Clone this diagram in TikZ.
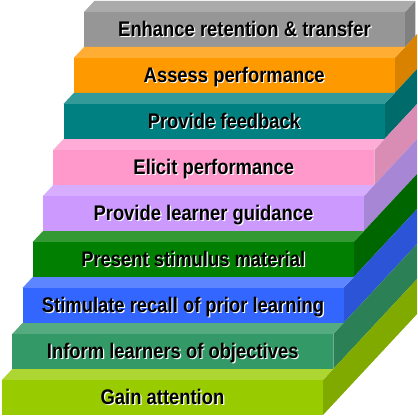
\documentclass[tikz,border=0pt]{standalone}
\usepackage{fontspec}
\setmainfont{Liberation Sans}
\definecolor{f0}{HTML}{969696}\definecolor{t0}{HTML}{ABABAB}\definecolor{d0}{HTML}{808080}
\definecolor{f1}{HTML}{FF9900}\definecolor{t1}{HTML}{FFAD33}\definecolor{d1}{HTML}{D98200}
\definecolor{f2}{HTML}{008080}\definecolor{t2}{HTML}{339999}\definecolor{d2}{HTML}{006B6B}
\definecolor{f3}{HTML}{FF99CC}\definecolor{t3}{HTML}{FFADD6}\definecolor{d3}{HTML}{D98DB5}
\definecolor{f4}{HTML}{CC99FF}\definecolor{t4}{HTML}{D6ADFF}\definecolor{d4}{HTML}{A886D6}
\definecolor{f5}{HTML}{007F00}\definecolor{t5}{HTML}{339933}\definecolor{d5}{HTML}{006600}
\definecolor{f6}{HTML}{3366FF}\definecolor{t6}{HTML}{5C85FF}\definecolor{d6}{HTML}{2B55D6}
\definecolor{f7}{HTML}{339966}\definecolor{t7}{HTML}{55AA80}\definecolor{d7}{HTML}{2B8056}
\definecolor{f8}{HTML}{99CC00}\definecolor{t8}{HTML}{ADD633}\definecolor{d8}{HTML}{80AA00}
\begin{document}
\begin{tikzpicture}[x=1pt,y=-1pt,
  lbl/.style={font=\fontsize{18.4}{22}\selectfont\bfseries, inner sep=0pt, anchor=base}]
\useasboundingbox (0,0) rectangle (417,417);
\clip (0,0) rectangle (417,417);
\foreach \i/\t in {0/Enhance retention \& transfer,
                   1/Assess performance,
                   2/Provide feedback,
                   3/Elicit performance,
                   4/Provide learner guidance,
                   5/Present stimulus material,
                   6/Stimulate recall of prior learning,
                   7/Inform learners of objectives,
                   8/Gain attention}{
  \pgfmathsetmacro\L{84-10.25*\i}
  \pgfmathsetmacro\R{\L+321}
  \pgfmathsetmacro\T{12+46*\i}
  \pgfmathsetmacro\B{\T+35}
  \pgfmathsetmacro\D{\i==0 ? 1 : 12}
  \pgfmathsetmacro\C{(\L+\R)/2}
  \fill[fill=d\i] (\R,\T) -- (\R,\B) -- ++(10.25*\D,-11*\D) -- ++(0,-35) -- cycle;
  \fill[fill=t\i] (\L,\T) -- (\R,\T) -- ++(10.25,-11) -- ++(-321,0) -- cycle;
  \fill[fill=f\i] (\L,\T) rectangle (\R,\B);
  \node[lbl,white] (s\i) at (\C+1.2,\T+25.5) {\scalebox{1}[1.15]{\t}};
  \node[lbl,black] (n\i) at (\C,\T+24.3) {\scalebox{1}[1.15]{\t}};
}
\end{tikzpicture}
\end{document}
